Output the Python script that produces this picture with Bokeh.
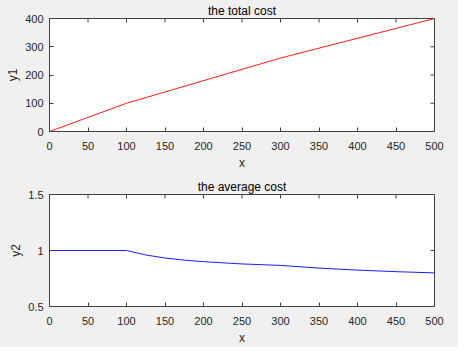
import math
from bokeh.plotting import figure
from bokeh.layouts import column
from bokeh.models import FixedTicker, Range1d, CustomJSTickFormatter
from bokeh.embed import file_html
from bokeh.resources import INLINE

# Data
x_total = [0, 100, 300, 500]
y1_total = [0, 100, 260, 400]

x_avg = [0, 100, 125, 150, 175, 200, 250, 300, 350, 400, 450, 500]
y2_avg = [1.0, 1.0, 0.96, 0.933, 0.914, 0.9, 0.88, 0.867, 0.843, 0.825, 0.811, 0.8]

x_ticks = [0, 50, 100, 150, 200, 250, 300, 350, 400, 450, 500]
y1_ticks = [0, 100, 200, 300, 400]
y2_ticks = [0.5, 1, 1.5]

FONT = "Liberation Sans"
AX = "#262626"
EDGE = "#404040"
BG = "#f0f0f0"


def style_axis(ax):
    ax.axis_line_color = EDGE
    ax.major_tick_line_color = EDGE
    ax.major_tick_in = 4
    ax.major_tick_out = 0
    ax.minor_tick_line_color = None
    ax.major_label_text_font = FONT
    ax.major_label_text_font_size = "11px"
    ax.major_label_text_color = AX
    ax.axis_label_text_font = FONT
    ax.axis_label_text_font_size = "12px"
    ax.axis_label_text_font_style = "normal"
    ax.axis_label_text_color = AX


def make_fig(height, border_top, border_bottom, y_ticks, title, ylabel):
    p = figure(width=458, height=height,
               x_range=Range1d(x_ticks[0], x_ticks[-1]),
               y_range=Range1d(y_ticks[0], y_ticks[-1]),
               output_backend="svg", toolbar_location=None,
               min_border_left=49, min_border_right=24,
               min_border_top=border_top, min_border_bottom=border_bottom,
               background_fill_color="white", border_fill_color=BG,
               outline_line_color=EDGE)
    p.grid.visible = False
    fmt = CustomJSTickFormatter(code="return String(tick);")

    xa = p.xaxis[0]
    xa.ticker = FixedTicker(ticks=x_ticks)
    xa.formatter = fmt
    xa.axis_label = "x"
    style_axis(xa)
    xa.major_label_standoff = 10
    xa.axis_label_standoff = 3

    ya = p.yaxis[0]
    ya.ticker = FixedTicker(ticks=y_ticks)
    ya.formatter = fmt
    ya.axis_label = ylabel
    style_axis(ya)
    ya.major_label_standoff = 6
    ya.axis_label_standoff = 2

    # inward tick marks on the top and right edges of the box
    p.ray(x=x_ticks, y=[y_ticks[-1]] * len(x_ticks), angle=-math.pi / 2,
          length=4, length_units="screen", line_color=EDGE, line_width=1)
    p.ray(x=[x_ticks[-1]] * len(y_ticks), y=y_ticks, angle=math.pi,
          length=4, length_units="screen", line_color=EDGE, line_width=1)

    p.title.text = title
    p.title.align = "center"
    p.title.text_font = FONT
    p.title.text_font_size = "12px"
    p.title.text_font_style = "normal"
    p.title.text_color = "black"
    p.title.standoff = 2
    return p


p1 = make_fig(172, 17, 37, y1_ticks, "the total cost", "y1")
p1.line(x_total, y1_total, line_color="#ff0000", line_width=0.9)

p2 = make_fig(175, 22, 35, y2_ticks, "the average cost", "y2")
p2.line(x_avg, y2_avg, line_color="#0000ff", line_width=0.9)

layout = column(p1, p2, spacing=0, styles={"background-color": BG})

with open("out.html", "w") as f:
    f.write(file_html(layout, INLINE))
